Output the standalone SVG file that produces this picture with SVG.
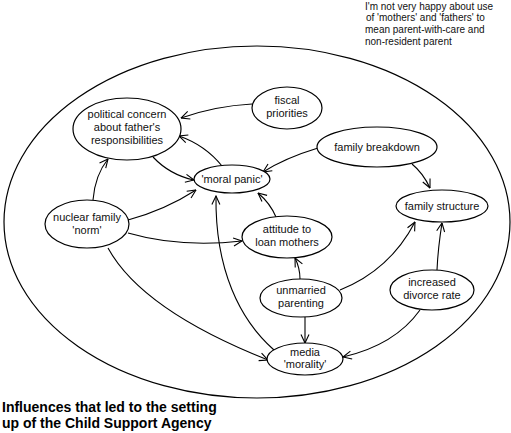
<svg xmlns="http://www.w3.org/2000/svg" width="511" height="433" viewBox="0 0 511 433">
<style>
  .n ellipse { fill: #fff; stroke: #000; stroke-width: 1.2; }
  .n text, .t { font-family: "Liberation Sans", Arial, sans-serif; font-size: 11px; fill: #111; text-anchor: middle; }
  .c path { fill: none; stroke: #000; stroke-width: 1.1; marker-end: url(#ah); }
  .note { font-family: "Liberation Sans", Arial, sans-serif; font-size: 10px; fill: #111; }
  .title { font-family: "Liberation Sans", Arial, sans-serif; font-size: 14px; font-weight: bold; fill: #000; }
</style>
<defs>
  <marker id="ah" viewBox="0 0 10 10" refX="9.5" refY="5" markerWidth="10" markerHeight="10" markerUnits="userSpaceOnUse" orient="auto">
    <path d="M1,1 L9.5,5 L1,9" fill="none" stroke="#000" stroke-width="1.1"/>
  </marker>
</defs>
<rect width="511" height="433" fill="#fff"/>
<ellipse id="boundary" cx="257" cy="222" rx="253" ry="176" fill="none" stroke="#000" stroke-width="1.2"/>
<g id="connectors" class="c">
  <path d="M252,104 Q215,106 181,118"/>
  <path d="M153,157 Q170,175 194,180"/>
  <path d="M222,166 Q205,145 179,136"/>
  <path d="M93,200 Q95,175 108,159"/>
  <path d="M128,220 Q165,210 196,190"/>
  <path d="M128,233 Q180,248 242,241"/>
  <path d="M108,248 Q142,310 268,360"/>
  <path d="M318,148 Q285,158 263,172"/>
  <path d="M412,164 Q423,173 430,188"/>
  <path d="M276,217 Q270,203 258,193"/>
  <path d="M300,279 Q300,268 295,258"/>
  <path d="M340,290 Q390,270 415,222"/>
  <path d="M437,270 Q438,248 442,223"/>
  <path d="M305,317 L305,343"/>
  <path d="M420,310 Q395,345 343,357"/>
  <path d="M274,350 C240,320 215,270 216,196"/>
</g>
<g id="political" class="n">
  <ellipse cx="127" cy="129" rx="54" ry="31"/>
  <text x="127" y="118">political concern</text>
  <text x="127" y="131">about father's</text>
  <text x="127" y="144">responsibilities</text>
</g>
<g id="fiscal" class="n">
  <ellipse cx="287" cy="108" rx="35" ry="21"/>
  <text x="287" y="104">fiscal</text>
  <text x="287" y="117">priorities</text>
</g>
<g id="breakdown" class="n">
  <ellipse cx="377" cy="147" rx="60" ry="20"/>
  <text x="377" y="151">family breakdown</text>
</g>
<g id="moral" class="n">
  <ellipse cx="232" cy="179" rx="38" ry="14"/>
  <text x="232" y="183">'moral panic'</text>
</g>
<g id="structure" class="n">
  <ellipse cx="442" cy="206" rx="46" ry="16"/>
  <text x="442" y="210">family structure</text>
</g>
<g id="nuclear" class="n">
  <ellipse cx="87" cy="224" rx="42" ry="24"/>
  <text x="87" y="221">nuclear family</text>
  <text x="87" y="234">'norm'</text>
</g>
<g id="attitude" class="n">
  <ellipse cx="287" cy="237" rx="45" ry="21"/>
  <text x="287" y="233">attitude to</text>
  <text x="287" y="246">loan mothers</text>
</g>
<g id="unmarried" class="n">
  <ellipse cx="301" cy="298" rx="41" ry="19"/>
  <text x="301" y="294">unmarried</text>
  <text x="301" y="307">parenting</text>
</g>
<g id="divorce" class="n">
  <ellipse cx="432" cy="290" rx="42" ry="20"/>
  <text x="432" y="286">increased</text>
  <text x="432" y="299">divorce rate</text>
</g>
<g id="media" class="n">
  <ellipse cx="305" cy="359" rx="38" ry="16"/>
  <text x="305" y="356">media</text>
  <text x="305" y="368">'morality'</text>
</g>
<g id="note" class="note">
  <text x="365" y="10">I'm not very happy about use</text>
  <text x="366" y="21">of 'mothers' and 'fathers' to</text>
  <text x="365" y="33">mean parent-with-care and</text>
  <text x="365" y="45">non-resident parent</text>
</g>
<g id="title" class="title">
  <text x="2" y="412">Influences that led to the setting</text>
  <text x="2" y="428">up of the Child Support Agency</text>
</g>
</svg>
